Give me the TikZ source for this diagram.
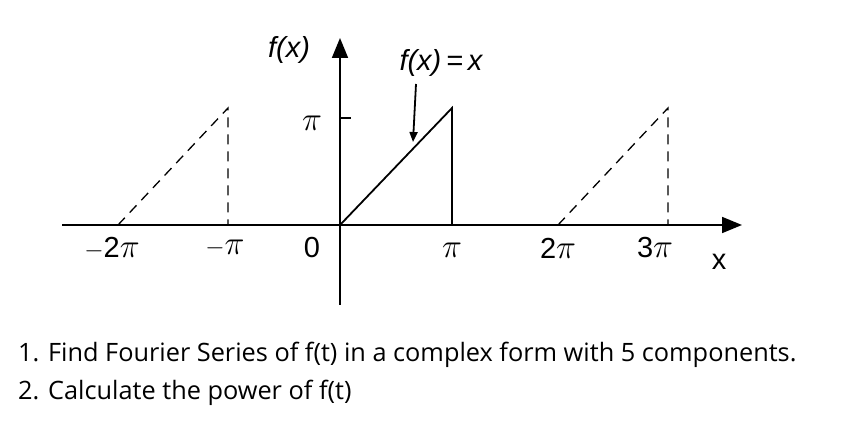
\documentclass[tikz,border=0pt]{standalone}
\usepackage{fontspec}
\usepackage{graphicx}
\setmainfont{Liberation Sans}
\newfontfamily\osans{Open Sans}
\usetikzlibrary{arrows.meta}
\newcommand{\bigpi}{\scalebox{1.35}{$\pi$}}
\begin{document}
\begin{tikzpicture}[x=1pt,y=-1pt,
  lbl/.style={font=\fontsize{29}{32}\selectfont,inner sep=0},
  txt/.style={font=\osans\fontsize{25.3}{30}\selectfont,anchor=west,inner sep=0},
  dsh/.style={dashed,dash pattern=on 10pt off 7pt,line width=1.3pt},
  ln/.style={line width=1.8pt}]
\useasboundingbox (0,0) rectangle (852,427);
\coordinate (xl) at (62,225); \coordinate (xr) at (742,225);
\coordinate (yb) at (340,305); \coordinate (yt) at (340,38);
\draw[ln,-{Triangle[length=20pt,width=16pt]}] (xl) -- (xr);
\draw[ln,-{Triangle[length=20pt,width=16pt]}] (yb) -- (yt);
\draw[line width=2.6pt] (228,225) -- (340,225);
\coordinate (o) at (340,225); \coordinate (p) at (452,108); \coordinate (pb) at (452,225);
\draw[ln] (o) -- (p) -- (pb);
\draw[dsh] (118,225) -- (228,108) -- (228,225);
\draw[dsh] (558,225) -- (668,108) -- (668,225);
\coordinate (t1) at (340,118); \coordinate (t2) at (351,118);
\draw[ln] (t1) -- (t2);
\node[lbl] (fx) at (289,50) {\itshape f(x)};
\node[lbl] (fxx) at (441,63) {\itshape f(x)\,=\,x};
\coordinate (a1) at (416,84); \coordinate (a2) at (413,142);
\draw[ln,-{Triangle[length=10pt,width=8pt]}] (a1) -- (a2);
\node[lbl] (pi) at (312,123) {\bigpi};
\node[lbl] (m2) at (112,248) {$-$2\bigpi};
\node[lbl] (m1) at (225,248) {$-$\bigpi};
\node[lbl] (z) at (312,248) {0};
\node[lbl] (p1) at (452,250) {\bigpi};
\node[lbl] (p2) at (558,248) {2\bigpi};
\node[lbl] (p3) at (655,248) {3\bigpi};
\node[lbl] (x) at (719,262) {x};
\node[txt] (l1) at (18,355) {1. Find Fourier Series of f(t) in a complex form with 5 components.};
\node[txt] (l2) at (18,393) {2. Calculate the power of f(t)};
\end{tikzpicture}
\end{document}
